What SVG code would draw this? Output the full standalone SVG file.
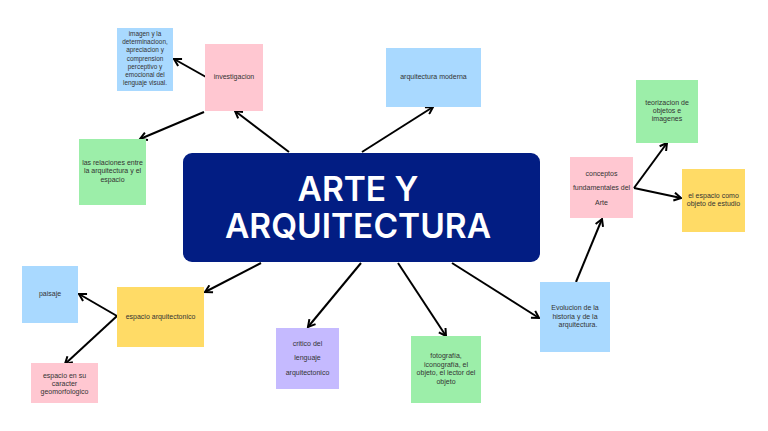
<svg xmlns="http://www.w3.org/2000/svg" width="768" height="431" viewBox="0 0 768 431">
<defs>
<marker id="ah" markerWidth="10" markerHeight="10" refX="8" refY="5" orient="auto" markerUnits="userSpaceOnUse">
<path d="M1,1 L8,5 L1,9" fill="none" stroke="#000" stroke-width="2" stroke-linejoin="miter"/>
</marker>
<style>
.c{fill:none;stroke:#000;stroke-width:2;marker-end:url(#ah)}
.t{font-family:"Liberation Sans",Arial,sans-serif;font-size:7px;fill:#333;text-anchor:middle}
.s{font-size:6.4px}
.blue{fill:#a9d9ff}.pink{fill:#ffc7d1}.green{fill:#9ceea9}.yellow{fill:#ffdb66}.purple{fill:#c5baff}
.title{font-family:Inter,"Liberation Sans",sans-serif;font-weight:600;font-size:33.5px;fill:#fff;text-anchor:middle}
</style>
</defs>
<rect width="768" height="431" fill="#fff"/>
<g id="connectors">
<path class="c" d="M289,152 L235,111"/>
<path class="c" d="M362,152 L433,107"/>
<path class="c" d="M206,77 L174,59"/>
<path class="c" d="M204,112 L140,139"/>
<path class="c" d="M261,263 L205,292"/>
<path class="c" d="M361,263 L308,327"/>
<path class="c" d="M398,263 L446,336"/>
<path class="c" d="M452,263 L539,318"/>
<path class="c" d="M576,282 L602,219"/>
<path class="c" d="M634,188 L667,143"/>
<path class="c" d="M634,188 L681,198"/>
<path class="c" d="M117,316 L79,294"/>
<path class="c" d="M117,316 L65,364"/>
</g>
<g id="center">
<rect x="183" y="153" width="357" height="109" rx="9" fill="#021d83"/>
<text class="title" x="358" y="201">ARTE Y</text>
<text class="title" x="358" y="238">ARQUITECTURA</text>
</g>
<g id="imagen">
<rect class="blue" x="117" y="28" width="56" height="63"/>
<text class="t s" x="145" y="36">imagen y la</text>
<text class="t s" x="145" y="44.2">determinacioon,</text>
<text class="t s" x="145" y="52.4">apreciacion y</text>
<text class="t s" x="145" y="60.6">comprension</text>
<text class="t s" x="145" y="68.8">perceptivo y</text>
<text class="t s" x="145" y="77">emocional del</text>
<text class="t s" x="145" y="85.2">lenguaje visual.</text>
</g>
<g id="investigacion">
<rect class="pink" x="205" y="44" width="58" height="67"/>
<text class="t" x="234" y="79">investigacion</text>
</g>
<g id="relaciones">
<rect class="green" x="79" y="139" width="67" height="66"/>
<text class="t" x="112.5" y="165">las relaciones entre</text>
<text class="t" x="112.5" y="173">la arquitectura y el</text>
<text class="t" x="112.5" y="181.5">espacio</text>
</g>
<g id="moderna">
<rect class="blue" x="386" y="48" width="95" height="59"/>
<text class="t" x="433.5" y="79">arquitectura moderna</text>
</g>
<g id="conceptos">
<rect class="pink" x="570" y="157" width="63" height="61"/>
<text class="t" x="601.5" y="176">conceptos</text>
<text class="t" x="601.5" y="190">fundamentales del</text>
<text class="t" x="601.5" y="204.5">Arte</text>
</g>
<g id="teorizacion">
<rect class="green" x="636" y="80" width="62" height="63"/>
<text class="t" x="667" y="105">teorizacion de</text>
<text class="t" x="667" y="113">objetos e</text>
<text class="t" x="667" y="121">imagenes</text>
</g>
<g id="espaciocomo">
<rect class="yellow" x="682" y="169" width="63" height="63"/>
<text class="t" x="713.5" y="198">el espacio como</text>
<text class="t" x="713.5" y="206">objeto de estudio</text>
</g>
<g id="evolucion">
<rect class="blue" x="540" y="282" width="70" height="70"/>
<text class="t" x="575" y="310">Evolucion de la</text>
<text class="t" x="575" y="318.5">historia y de la</text>
<text class="t" x="578" y="327">arquitectura.</text>
</g>
<g id="paisaje">
<rect class="blue" x="22" y="266" width="56" height="57"/>
<text class="t" x="50" y="296">paisaje</text>
</g>
<g id="espacioarq">
<rect class="yellow" x="117" y="287" width="87" height="60"/>
<text class="t" x="160.5" y="319">espacio arquitectonico</text>
</g>
<g id="geomorfologico">
<rect class="pink" x="31" y="363" width="67" height="40"/>
<text class="t" x="64.5" y="378">espacio en su</text>
<text class="t" x="64.5" y="386">caracter</text>
<text class="t" x="64.5" y="394">geomorfologico</text>
</g>
<g id="critico">
<rect class="purple" x="276" y="328" width="63" height="61"/>
<text class="t" x="307.5" y="346">critico del</text>
<text class="t" x="307.5" y="360">lenguaje</text>
<text class="t" x="307.5" y="375">arquitectonico</text>
</g>
<g id="fotografia">
<rect class="green" x="411" y="336" width="70" height="67"/>
<text class="t" x="446" y="358">fotografía,</text>
<text class="t" x="446" y="366.5">iconografía, el</text>
<text class="t" x="446" y="375">objeto, el lector del</text>
<text class="t" x="446" y="383.5">objeto</text>
</g>
</svg>
